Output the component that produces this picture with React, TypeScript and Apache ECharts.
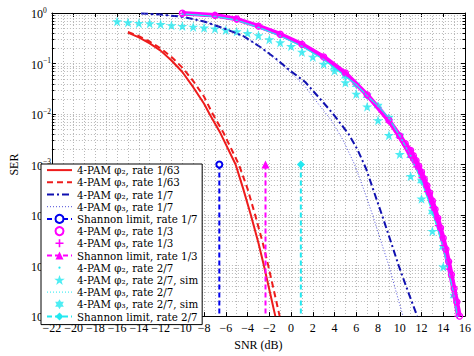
import React, { useEffect, useRef } from 'react';
import * as echarts from 'echarts';

// ---------- data ----------
const X_MIN = -22;
const X_MAX = 16;
const X_STEP = 2;
const Y_MIN = 1e-6;
const Y_MAX = 1;
const Y_DECADES = [-6, -5, -4, -3, -2, -1];
const Y_MINOR_MANTISSAS = [2, 3, 4, 5, 6, 7, 8, 9];

const NAMES = [
  '4-PAM \u03c6\u2082, rate 1/63',
  '4-PAM \u03c6\u2083, rate 1/63',
  '4-PAM \u03c6\u2082, rate 1/7',
  '4-PAM \u03c6\u2083, rate 1/7',
  'Shannon limit, rate 1/7',
  '4-PAM \u03c6\u2082, rate 1/3',
  '4-PAM \u03c6\u2083, rate 1/3',
  'Shannon limit, rate 1/3',
  '4-PAM \u03c6\u2082, rate 2/7',
  '4-PAM \u03c6\u2082, rate 2/7, sim',
  '4-PAM \u03c6\u2083, rate 2/7',
  '4-PAM \u03c6\u2083, rate 2/7, sim',
  'Shannon limit, rate 2/7',
];

const red2SNR = [-15, -14, -13, -12, -11, -10, -9, -8, -7.5, -6.5, -5.1, -4.4, -3.7, -3.0, -2.5, -1.95, -1.45];
const red2SER = [0.41, 0.33, 0.25, 0.18, 0.115, 0.068, 0.034, 0.016, 0.01, 0.0042, 1e-3, 3.3e-4, 1e-4, 2.8e-5, 1e-5, 3e-6, 1e-6];

const red3SNR = [-15, -14, -13, -12, -11, -10, -9, -8, -7.2, -6.2, -4.8, -4.0, -3.3, -2.6, -2.1, -1.55, -1.05];
const red3SER = [0.42, 0.35, 0.27, 0.2, 0.135, 0.083, 0.045, 0.022, 0.01, 0.0042, 1e-3, 3.3e-4, 1e-4, 2.8e-5, 1e-5, 3e-6, 1e-6];

const blue2SNR = [-13.8, -12, -10, -8, -6, -4.4, -2.8, -1.5, 0, 1.3, 2.5, 3.8, 5.3, 6.1, 6.9, 7.65, 8.4, 9.15, 9.9, 10.75, 11.6];
const blue2SER = [0.98, 0.93, 0.84, 0.68, 0.48, 0.35, 0.21, 0.13, 0.07, 0.043, 0.022, 0.0105, 0.004, 0.002, 8.3e-4, 2.8e-4, 9.5e-5, 3.1e-5, 1e-5, 3.1e-6, 1e-6];

const blue3SNR = [-13.8, -12, -10, -8, -6, -4.4, -2.8, -1.5, 0, 1.3, 2.5, 3.7, 4.8, 5.8, 6.65, 7.5, 8.25, 9.0, 9.65, 10.3];
const blue3SER = [0.98, 0.93, 0.84, 0.68, 0.48, 0.35, 0.21, 0.125, 0.065, 0.035, 0.016, 0.0075, 0.003, 1.05e-3, 3.4e-4, 1e-4, 3.1e-5, 1e-5, 3.1e-6, 1e-6];

const mag2SNR = [-10, -7, -5, -3, -1, 1, 3, 5, 7, 9, 10, 10.5, 11, 11.25, 11.5, 11.75, 12, 12.25, 12.5, 12.75, 13, 13.25, 13.5, 13.75, 14, 14.25, 14.5, 14.75, 15, 15.25, 15.5];
const mag2SER = [0.99, 0.9, 0.76, 0.55, 0.38, 0.24, 0.135, 0.065, 0.024, 0.0075, 0.0037, 0.0026, 1.9e-3, 1.5e-3, 1.2e-3, 9.3e-4, 7.1e-4, 5.2e-4, 3.8e-4, 2.75e-4, 1.9e-4, 1.3e-4, 8.7e-5, 5.6e-5, 3.5e-5, 2.1e-5, 1.2e-5, 6.6e-6, 3.5e-6, 1.9e-6, 1.0e-6];

const mag3SNR = [-10, -7, -5, -3, -1, 1, 3, 5, 7, 9, 10, 11, 11.5, 12, 12.5, 13, 13.5, 14, 14.5, 15, 15.3];
const mag3SER = [0.98, 0.89, 0.75, 0.54, 0.37, 0.235, 0.13, 0.062, 0.023, 0.007, 0.0033, 0.0014, 9e-4, 5.5e-4, 2.9e-4, 1.4e-4, 6.2e-5, 2.5e-5, 8.5e-6, 2.5e-6, 1e-6];

const cyanTheorySNR = [-10, -7, -5, -3, -1, 1, 3, 5, 6, 7, 8, 9, 10, 11, 12, 13, 14, 15, 15.3];
const cyanTheorySER = [0.96, 0.86, 0.72, 0.52, 0.35, 0.22, 0.12, 0.056, 0.038, 0.023, 0.0145, 0.0083, 0.0037, 0.0015, 4.7e-4, 1.15e-4, 2.3e-5, 2.5e-6, 1e-6];

const cyanSim2SNR = [-16, -15, -14, -13, -12, -11, -10, -9, -8, -7, -6, -5, -4, -3, -2, -1, 0, 1, 2, 3, 4, 5, 6, 7, 8, 9, 10, 11, 12, 13, 14];
const cyanSim2SER = [0.68, 0.65, 0.63, 0.62, 0.6, 0.57, 0.55, 0.53, 0.51, 0.49, 0.46, 0.43, 0.4, 0.36, 0.3, 0.26, 0.22, 0.17, 0.135, 0.098, 0.072, 0.042, 0.025, 0.014, 0.0075, 0.0038, 0.0016, 5.9e-4, 2.1e-4, 4.8e-5, 9.5e-6];

const cyanSim3SNR = [4, 5, 6, 7, 8, 9, 10, 11, 12, 13, 14, 15];
const cyanSim3SER = [0.085, 0.056, 0.038, 0.023, 0.0145, 0.0083, 0.0037, 0.0015, 4.7e-4, 1.15e-4, 2.3e-5, 2.5e-6];

const shannonSNR = [-6.6, -2.35, 0.9];
const SHANNON_TOP = 1e-3;
const SHANNON_BOTTOM = 1e-6;

// ---------- styles ----------
const SERIF = '"Liberation Serif", "DejaVu Serif", serif';
const LEGEND_FONT = '"DejaVu Serif", "Liberation Serif", serif';
const RED = '#ee1c1c';
const BLUE = '#0000ee';
const DBLUE = '#1010b0';
const LBLUE = '#4a4ad8';
const MAG = '#ff00ff';
const CYAN = '#22e8f0';
const GRID = '#b8b8b8';

const PENTAGRAM = 'path://M50,2 L61.8,36.2 L97.6,36.2 L68.6,57.4 L79.4,91.6 L50,70.4 L20.6,91.6 L31.4,57.4 L2.4,36.2 L38.2,36.2 Z';
const HEXAGRAM = 'path://M50,0 L64.4,25 L93.3,25 L78.9,50 L93.3,75 L64.4,75 L50,100 L35.6,75 L6.7,75 L21.1,50 L6.7,25 L35.6,25 Z';
const PLUS = 'path://M4,0 L6,0 L6,4 L10,4 L10,6 L6,6 L6,10 L4,10 L4,6 L0,6 L0,4 L4,4 Z';
const DOT = 'path://M0,0 M10,10 M3.6,5 A1.4,1.4 0 1 1 6.4,5 A1.4,1.4 0 1 1 3.6,5 Z';

const zip = (xs: number[], ys: number[]) => xs.map((x, i) => [x, ys[i]]);

const minorData: number[][] = [];
Y_DECADES.forEach((e) => Y_MINOR_MANTISSAS.forEach((m) => minorData.push([X_MIN, m * Math.pow(10, e)])));

const shannon = (snr: number) => [
  [snr, SHANNON_TOP],
  { value: [snr, SHANNON_BOTTOM], symbol: 'none' },
];

const supFmt = (v: number) => {
  const e = Math.round(Math.log10(v));
  return `{b|10}{s|${e < 0 ? '\u2212' + -e : e}}`;
};

function buildOption() {
  const axisLine = { show: true, onZero: false, lineStyle: { color: '#000', width: 1 } };
  const tick = { show: true, inside: true, length: 4, lineStyle: { color: '#000', width: 1 } };
  const split = { show: true, lineStyle: { color: GRID, width: 1, type: [1, 2] } };
  return {
    animation: false,
    backgroundColor: '#fff',
    grid: { left: 38, right: 9, top: 13, bottom: 30, containLabel: false },
    xAxis: [
      {
        type: 'value', min: X_MIN, max: X_MAX, interval: X_STEP, position: 'bottom',
        name: 'SNR (dB)', nameLocation: 'middle', nameGap: 15,
        nameTextStyle: { fontFamily: SERIF, fontSize: 12, color: '#000' },
        axisLine, axisTick: tick,
        axisLabel: { formatter: (v: number) => String(v).replace('-', '\u2212'), color: '#000', fontFamily: SERIF, fontSize: 12, margin: 6 },
        splitLine: split,
        minorTick: { show: false, splitNumber: 2 },
        minorSplitLine: { show: true, lineStyle: { color: GRID, width: 1, type: [1, 2] } },
      },
      {
        type: 'value', min: X_MIN, max: X_MAX, interval: X_STEP, position: 'top',
        axisLine, axisTick: tick, axisLabel: { show: false }, splitLine: { show: false },
      },
    ],
    yAxis: [
      {
        type: 'log', logBase: 10, min: Y_MIN, max: Y_MAX, splitNumber: 6, position: 'left',
        name: 'SER', nameLocation: 'middle', nameGap: 30, nameRotate: 90,
        nameTextStyle: { fontFamily: SERIF, fontSize: 12, color: '#000' },
        axisLine, axisTick: tick,
        axisLabel: {
          formatter: supFmt, align: 'left', margin: 21,
          rich: {
            b: { fontSize: 12, fontFamily: SERIF, color: '#000', verticalAlign: 'bottom' },
            s: { fontSize: 7.5, fontFamily: SERIF, color: '#000', verticalAlign: 'bottom', padding: [0, 0, 6, 0] },
          },
        },
        splitLine: split,
      },
      {
        type: 'log', logBase: 10, min: Y_MIN, max: Y_MAX, splitNumber: 6, position: 'right',
        axisLine, axisTick: tick, axisLabel: { show: false }, splitLine: { show: false },
      },
    ],
    legend: {
      orient: 'vertical', left: 41, top: 164,
      itemGap: 0, itemWidth: 25, itemHeight: 10,
      padding: [0, 4, 2, 5],
      backgroundColor: '#fff', borderColor: '#000', borderWidth: 1, borderRadius: 0,
      selectedMode: false,
      textStyle: { fontFamily: LEGEND_FONT, fontSize: 10.3, color: '#000', lineHeight: 12.2 },
      data: [
        { name: NAMES[0], itemStyle: { opacity: 0 } },
        { name: NAMES[1], itemStyle: { opacity: 0 } },
        { name: NAMES[2], itemStyle: { opacity: 0 } },
        { name: NAMES[3], itemStyle: { opacity: 0 }, lineStyle: { width: 1 } },
        { name: NAMES[4] },
        { name: NAMES[5], lineStyle: { opacity: 0 } },
        { name: NAMES[6], lineStyle: { opacity: 0 } },
        { name: NAMES[7] },
        { name: NAMES[8], lineStyle: { opacity: 0 } },
        { name: NAMES[9] },
        { name: NAMES[10], itemStyle: { opacity: 0 }, lineStyle: { width: 1 } },
        { name: NAMES[11] },
        { name: NAMES[12] },
      ],
    },
    series: [
      {
        type: 'custom', z: 1, silent: true, data: minorData,
        encode: { x: 0, y: 1 },
        renderItem: (params: any, api: any) => {
          const cs = params.coordSys;
          const p = api.coord([api.value(0), api.value(1)]);
          const y = Math.round(p[1]) + 0.5;
          return {
            type: 'group',
            children: [
              { type: 'line', shape: { x1: cs.x, y1: y, x2: cs.x + cs.width, y2: y }, style: { stroke: GRID, lineWidth: 1, lineDash: [1, 2] } },
              { type: 'line', shape: { x1: cs.x, y1: y, x2: cs.x + 2.5, y2: y }, style: { stroke: '#000', lineWidth: 1 } },
              { type: 'line', shape: { x1: cs.x + cs.width - 2.5, y1: y, x2: cs.x + cs.width, y2: y }, style: { stroke: '#000', lineWidth: 1 } },
            ],
          };
        },
      },
      { name: NAMES[0], type: 'line', symbol: 'none', data: zip(red2SNR, red2SER), lineStyle: { color: RED, width: 2 }, itemStyle: { color: RED } },
      { name: NAMES[1], type: 'line', symbol: 'none', data: zip(red3SNR, red3SER), lineStyle: { color: RED, width: 2, type: [6, 4] }, itemStyle: { color: RED } },
      { name: NAMES[2], type: 'line', symbol: 'none', data: zip(blue2SNR, blue2SER), lineStyle: { color: DBLUE, width: 2, type: [7, 3, 2, 3] }, itemStyle: { color: DBLUE } },
      { name: NAMES[3], type: 'line', symbol: 'none', data: zip(blue3SNR, blue3SER), lineStyle: { color: LBLUE, width: 1, type: [1, 2] }, itemStyle: { color: LBLUE } },
      {
        name: NAMES[4], type: 'line', data: shannon(shannonSNR[0]), symbol: 'emptyCircle', symbolSize: 6,
        lineStyle: { color: BLUE, width: 2, type: [5, 3] }, itemStyle: { color: BLUE, borderWidth: 2 },
      },
      {
        name: NAMES[5], type: 'line', data: zip(mag2SNR, mag2SER), symbol: 'circle', symbolSize: 6,
        lineStyle: { color: MAG, width: 4.5 }, itemStyle: { color: 'rgba(255,255,255,0)', borderColor: MAG, borderWidth: 1.3 },
      },
      {
        name: NAMES[6], type: 'line', data: zip(mag3SNR, mag3SER), symbol: PLUS, symbolSize: 6,
        lineStyle: { color: MAG, width: 3 }, itemStyle: { color: MAG },
      },
      {
        name: NAMES[7], type: 'line', data: shannon(shannonSNR[1]), symbol: 'triangle', symbolSize: 8,
        lineStyle: { color: MAG, width: 2, type: [5, 3] }, itemStyle: { color: MAG },
      },
      {
        name: NAMES[8], type: 'line', data: zip(cyanTheorySNR, cyanTheorySER), symbol: DOT, symbolSize: 6,
        lineStyle: { color: CYAN, width: 1.2 }, itemStyle: { color: CYAN },
      },
      {
        name: NAMES[9], type: 'scatter', data: zip(cyanSim2SNR, cyanSim2SER), symbol: PENTAGRAM, symbolSize: 10,
        itemStyle: { color: CYAN },
      },
      {
        name: NAMES[10], type: 'line', symbol: 'none', data: zip(cyanTheorySNR, cyanTheorySER),
        lineStyle: { color: CYAN, width: 1, type: [1, 2] }, itemStyle: { color: CYAN },
      },
      {
        name: NAMES[11], type: 'scatter', data: zip(cyanSim3SNR, cyanSim3SER), symbol: HEXAGRAM, symbolSize: 9,
        itemStyle: { color: CYAN },
      },
      {
        name: NAMES[12], type: 'line', data: shannon(shannonSNR[2]), symbol: 'diamond', symbolSize: 8,
        lineStyle: { color: CYAN, width: 2, type: [5, 3] }, itemStyle: { color: CYAN },
      },
    ],
  };
}

export default function App() {
  const ref = useRef<HTMLDivElement>(null);
  useEffect(() => {
    if (!ref.current) return;
    const chart = echarts.init(ref.current, null, { renderer: 'svg' });
    chart.setOption(buildOption() as any);
    return () => chart.dispose();
  }, []);
  return (
    <div
      ref={ref}
      style={{ position: 'fixed', left: 0, top: 0, width: 474, height: 356, background: '#fff' }}
    />
  );
}
